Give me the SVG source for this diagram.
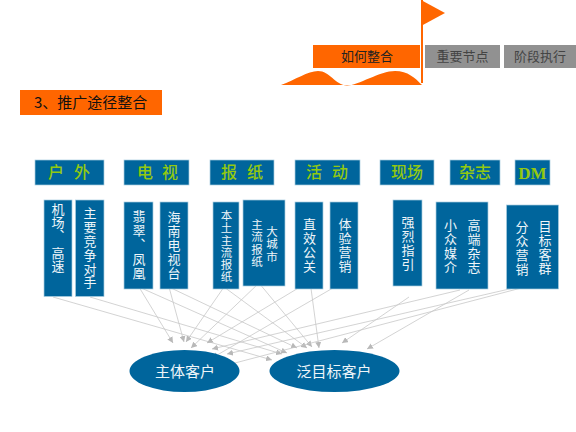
<svg xmlns="http://www.w3.org/2000/svg" width="576" height="432" viewBox="0 0 576 432">
<style>
text{font-family:"Noto Sans CJK SC","Liberation Sans",sans-serif}
.b{fill:#00659c;stroke:#a8cde0;stroke-width:.7}
.h{font-size:16px;fill:#93c90f;text-anchor:middle;font-weight:500}
.v{font-size:13px;fill:#eef5f9;writing-mode:vertical-rl;text-orientation:upright}
.s{font-size:11.500px;letter-spacing:.7px}
.tab{font-size:13px;text-anchor:middle}
.c{fill:#eef5f9;font-size:15px;text-anchor:middle}
#connectors line{stroke:#c8c8c8;stroke-width:.8;marker-end:url(#a)}
</style>
<defs><marker id="a" markerUnits="userSpaceOnUse" markerWidth="7" markerHeight="6" refX="6" refY="3" orient="auto"><path d="M0 0L6 3L0 6Z" fill="#b8b8b8"/></marker></defs>
<g id="flag">
<path d="M281 85C295 80 308 71 318 71C330 71 335 85 347 85.500C358 85.500 380 71 395 71C408 71 415 78 422 85Z" fill="#ff6600"/>
<rect x="421" y="0" width="2" height="83" fill="#ff6600"/>
<path d="M421 0L445 13L421 26Z" fill="#ff6600"/>
</g>
<g id="tab1"><rect x="313" y="45" width="107" height="23" fill="#ff6600"/><text class="tab" x="367" y="61" fill="#222">如何整合</text></g>
<g id="tab2"><rect x="425" y="45" width="75" height="23" fill="#919191"/><text class="tab" x="462.500" y="61" fill="#444">重要节点</text></g>
<g id="tab3"><rect x="504" y="45" width="72" height="23" fill="#919191"/><text class="tab" x="540" y="61" fill="#444">阶段执行</text></g>
<g id="title"><rect x="20" y="90" width="142" height="25" fill="#ff6600"/><text x="34" y="108" font-size="15" fill="#111">3、推广途径整合</text></g>
<g id="connectors">
<line x1="53" y1="297" x2="272" y2="360"/><line x1="90" y1="297" x2="282" y2="354"/>
<line x1="139" y1="287" x2="173" y2="343"/><line x1="139" y1="287" x2="287" y2="353"/>
<line x1="169" y1="287" x2="184" y2="342"/><line x1="169" y1="287" x2="297" y2="348"/>
<line x1="224" y1="287" x2="186" y2="342"/><line x1="224" y1="287" x2="307" y2="348"/>
<line x1="259" y1="283" x2="191" y2="348"/><line x1="259" y1="283" x2="312" y2="347"/>
<line x1="310" y1="281" x2="207" y2="343"/><line x1="310" y1="281" x2="319" y2="348"/>
<line x1="345" y1="281" x2="212" y2="358"/>
<line x1="409" y1="297" x2="342" y2="343"/>
<line x1="460" y1="290" x2="212" y2="349"/><line x1="469" y1="290" x2="367" y2="349"/>
<line x1="518" y1="287" x2="227" y2="354"/><line x1="525" y1="287" x2="212" y2="369"/>
</g>
<g id="h1"><rect class="b" x="35" y="160" width="69" height="25"/><text class="h" x="56" y="178">户</text><text class="h" x="82" y="178">外</text></g>
<g id="h2"><rect class="b" x="124" y="160" width="65" height="25"/><text class="h" x="145" y="178">电</text><text class="h" x="170" y="178">视</text></g>
<g id="h3"><rect class="b" x="210" y="160" width="64" height="25"/><text class="h" x="229" y="178">报</text><text class="h" x="255" y="178">纸</text></g>
<g id="h4"><rect class="b" x="295" y="160" width="65" height="25"/><text class="h" x="314" y="178">活</text><text class="h" x="340" y="178">动</text></g>
<g id="h5"><rect class="b" x="380" y="160" width="54" height="25"/><text class="h" x="407" y="178">现场</text></g>
<g id="h6"><rect class="b" x="450" y="160" width="50" height="25"/><text class="h" x="475" y="178">杂志</text></g>
<g id="h7"><rect class="b" x="515" y="160" width="35" height="25"/><text class="h" x="532.500" y="179" style="font-family:'Liberation Serif',serif;font-weight:700;font-size:17px">DM</text></g>
<g id="n1"><rect class="b" x="44" y="200" width="28" height="96.500"/><text class="v" x="58" y="203">机场、</text><text class="v" x="58" y="247">高速</text></g>
<g id="n2"><rect class="b" x="75.500" y="200" width="28.500" height="96.500"/><text class="v" x="90" y="207" style="letter-spacing:.8px">主要竞争对手</text></g>
<g id="n3"><rect class="b" x="124" y="202" width="29" height="87"/><text class="v" x="139" y="210" style="letter-spacing:1px">翡翠、</text><text class="v" x="139" y="253" style="letter-spacing:1px">凤凰</text></g>
<g id="n4"><rect class="b" x="160" y="202" width="28" height="87"/><text class="v" x="174" y="211" style="letter-spacing:1px">海南电视台</text></g>
<g id="n5"><rect class="b" x="213" y="202" width="26" height="87"/><text class="v s" x="226.500" y="210">本土主流报纸</text></g>
<g id="n6"><rect class="b" x="243" y="200" width="42" height="86"/><text class="v s" x="272" y="226">大城市</text><text class="v s" x="257" y="219">主流报纸</text></g>
<g id="n7"><rect class="b" x="295" y="202" width="28" height="87"/><text class="v" x="309.500" y="218" style="letter-spacing:1px">直效公关</text></g>
<g id="n8"><rect class="b" x="330" y="202" width="28" height="87"/><text class="v" x="345" y="218" style="letter-spacing:1px">体验营销</text></g>
<g id="n9"><rect class="b" x="393" y="200" width="29" height="86"/><text class="v" x="408" y="216" style="letter-spacing:1px">强烈指引</text></g>
<g id="n10"><rect class="b" x="436" y="202" width="52" height="87"/><text class="v" x="450.500" y="219" style="letter-spacing:1px">小众媒介</text><text class="v" x="474" y="219" style="letter-spacing:1px">高端杂志</text></g>
<g id="n11"><rect class="b" x="506.500" y="205" width="52" height="84"/><text class="v" x="522" y="221" style="letter-spacing:1px">分众营销</text><text class="v" x="545" y="220" style="letter-spacing:1px">目标客群</text></g>
<g id="e1"><ellipse cx="184.500" cy="371" rx="55" ry="21" fill="#00659c"/><text class="c" x="185" y="377">主体客户</text></g>
<g id="e2"><ellipse cx="334.500" cy="371" rx="65" ry="21" fill="#00659c"/><text class="c" x="334" y="377">泛目标客户</text></g>
</svg>
